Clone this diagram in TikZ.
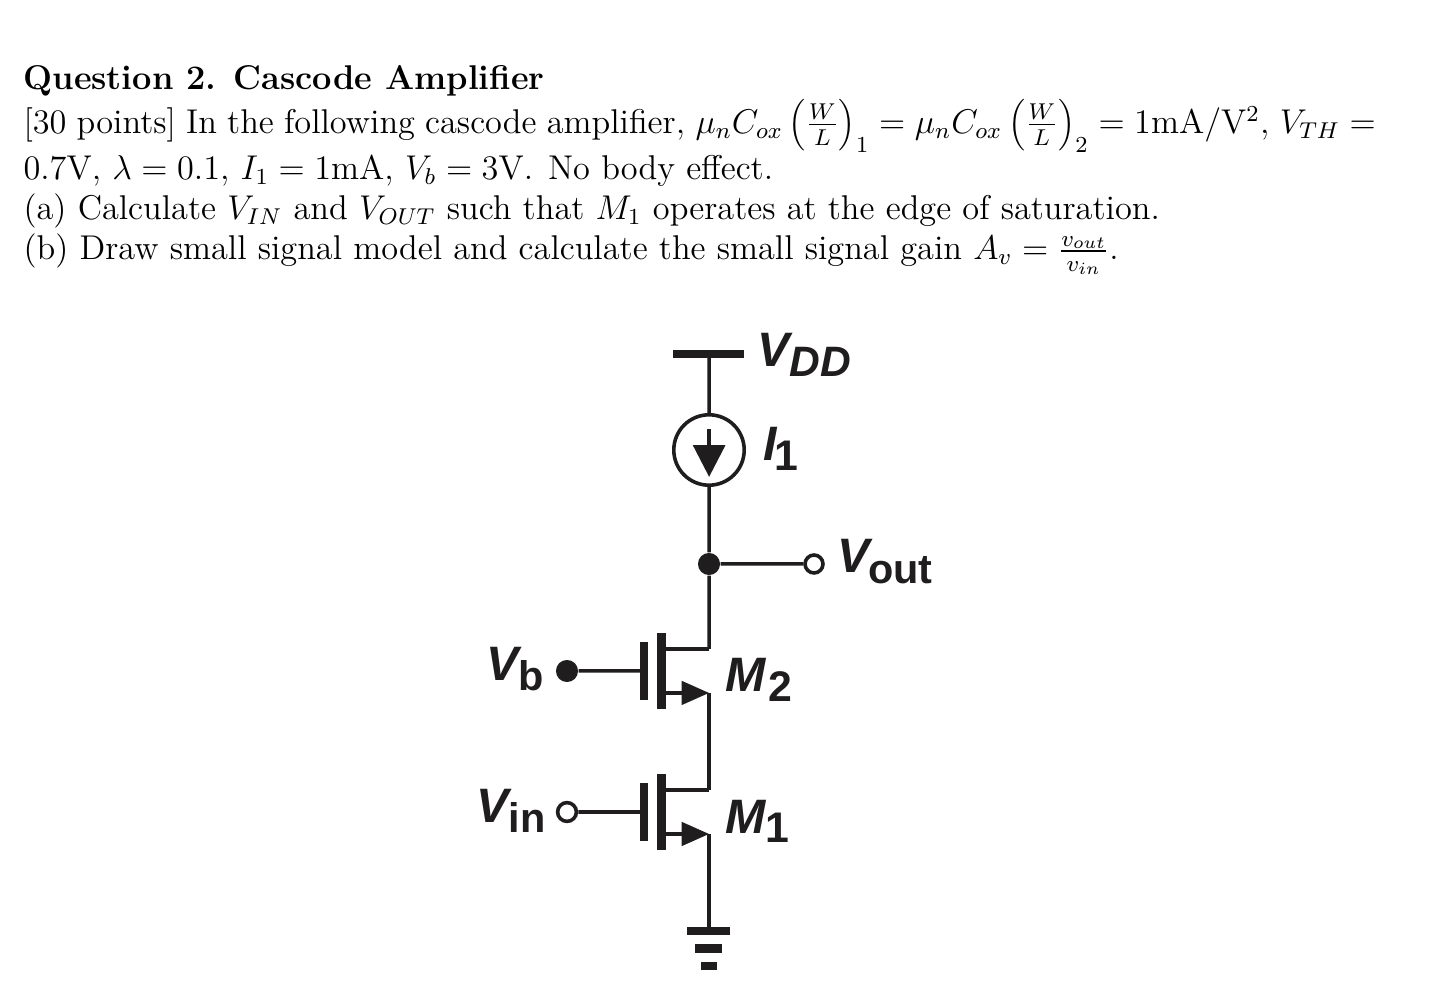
\documentclass[tikz,border=0pt]{standalone}
\usepackage[no-math]{fontspec}
\usepackage{graphicx}
\usetikzlibrary{arrows.meta}
\newfontfamily\circfont{Liberation Sans}
\definecolor{ink}{HTML}{1F1D1E}
\newcommand{\subit}[1]{\raisebox{-3.6pt}{\fontsize{15.4}{17}\selectfont #1}}
\newcommand{\subdig}[1]{\raisebox{-3.6pt}{\upshape\fontsize{15.5}{18}\selectfont #1}}
\newcommand{\subup}[1]{\raisebox{-3.8pt}{\upshape\fontsize{15}{17}\selectfont #1}}
\tikzset{
	wire/.style={draw=ink, line width=1.3pt},
	plate/.style={draw=ink, line width=3.1pt},
	term/.style={circle, draw=ink, line width=1.3pt, fill=white, inner sep=0, minimum size=6.5pt},
	dot/.style={circle, fill=ink, inner sep=0, minimum size=8pt},
	lab/.style={text=ink, inner sep=0, anchor=base west, font=\circfont\bfseries\itshape\fontsize{17.5}{20}\selectfont},
}
\begin{document}
\begin{tikzpicture}[scale=1.273]
	\useasboundingbox (0,0) rectangle (14.5,10);

	% question text
	\node (question) [anchor=north west, inner sep=0] at (0.23,9.35) {\scalebox{1.037}{\parbox[t]{16.6cm}{\fontsize{12}{14}\selectfont
		\textbf{Question 2. Cascode Amplifier}\par\noindent
		[30 points] In the following cascode amplifier, $\mu_n C_{ox}\left(\frac{W}{L}\right)_1 = \mu_n C_{ox}\left(\frac{W}{L}\right)_2 = 1$mA/V$^2$, $V_{TH} = 0.7$V, $\lambda = 0.1$, $I_1 = 1$mA, $V_b = 3$V.\hspace{1.3pt} No body effect.\par\noindent
		(a) Calculate $V_{IN}$ and $V_{OUT}$ such that $M_1$ operates at the edge of saturation.\par\noindent
		(b) Draw small signal model and calculate the small signal gain $A_v = \frac{v_{out}}{v_{in}}$.}}};

	% supply and current source
	\coordinate (vdd) at (7.09,6.46);
	\draw[plate] (6.73,6.46) -- (7.44,6.46);
	\node (isrc) [circle, draw=ink, line width=1.3pt, inner sep=0, minimum size=25.5pt] at (7.09,5.50) {};
	\coordinate (isrctop) at (7.09,5.71);
	\coordinate (isrctip) at (7.09,5.23);
	\draw[wire] (vdd) -- (isrc);
	\draw[wire, -{Triangle[length=11.5pt,width=11.5pt]}] (isrctop) -- (isrctip);
	\node (vddlab) [lab] at (7.57,6.33) {V\subit{DD}};
	\node (ilab) [lab] at (7.63,5.39) {I\kern-0.8pt\subdig{1}};

	% output node
	\node (out) [dot] at (7.09,4.36) {};
	\node (vout) [term] at (8.14,4.36) {};
	\draw[wire] (isrc) -- (out);
	\draw[wire] (out) -- (vout);
	\node (voutlab) [lab] at (8.37,4.27) {V\kern-0.6pt\subup{out}};

	% transistors
	\foreach \name/\y in {M2/3.29, M1/1.88} {
		\coordinate (\name g) at (6.44,\y);
		\coordinate (\name b) at (6.66,\y);
		\coordinate (\name d) at (7.09,\y+0.22);
		\coordinate (\name s) at (7.09,\y-0.22);
		\draw[plate] (6.44,\y+0.29) -- (6.44,\y-0.29);
		\draw[plate, line width=3.3pt] (6.615,\y+0.38) -- (6.615,\y-0.38);
		\draw[wire] (\name d) -- (\name b |- \name d);
		\draw[wire, -{Triangle[length=10pt,width=8.5pt]}] (\name b |- \name s) -- (\name s);
	}

	% gates
	\node (vb) [dot] at (5.67,3.29) {};
	\node (vin) [term, minimum size=6.8pt] at (5.67,1.88) {};
	\draw[wire] (vb) -- (M2g);
	\draw[wire] (vin) -- (M1g);
	\node (vblab) [lab] at (4.86,3.20) {V\subup{b}};
	\node (vinlab) [lab] at (4.76,1.78) {V\subup{in}};
	\node (m2lab) [lab] at (7.25,3.08) {M\kern0.8pt\subdig{2}};
	\node (m1lab) [lab] at (7.25,1.67) {M\subdig{1}};

	% drains and sources
	\draw[wire] (out) -- (M2d);
	\draw[wire] (M2s) -- (M1d);

	% ground
	\coordinate (gnd) at (7.09,0.69);
	\draw[wire] (M1s) -- (gnd);
	\draw[plate] (6.87,0.69) -- (7.30,0.69);
	\draw[plate] (6.95,0.515) -- (7.22,0.515);
	\draw[plate] (7.01,0.34) -- (7.17,0.34);

\end{tikzpicture}
\end{document}
